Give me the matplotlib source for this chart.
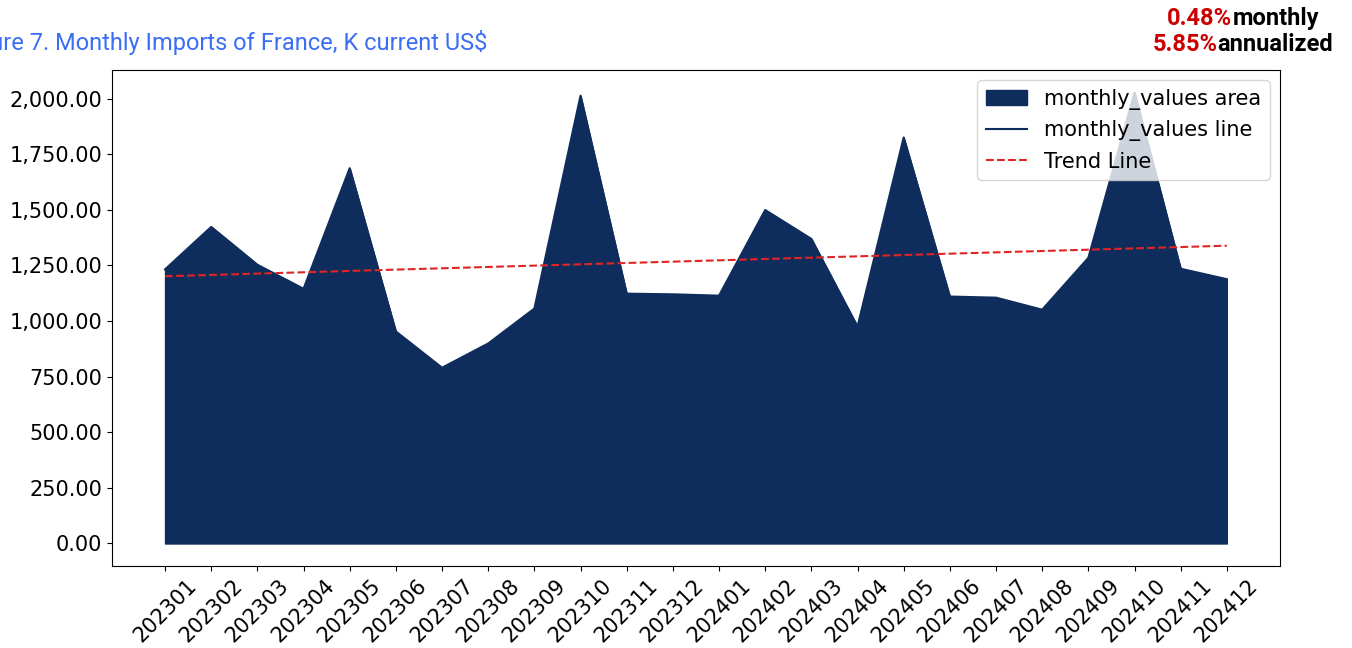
import numpy as np
import matplotlib.pyplot as plt
from matplotlib.ticker import FuncFormatter

# monthly imports
months = ['202301', '202302', '202303', '202304', '202305', '202306',
          '202307', '202308', '202309', '202310', '202311', '202312',
          '202401', '202402', '202403', '202404', '202405', '202406',
          '202407', '202408', '202409', '202410', '202411', '202412']
monthly_values = [1232, 1423, 1253, 1145, 1687, 953,
                  790, 899, 1056, 2013, 1123, 1120,
                  1114, 1499, 1369, 975, 1825, 1110,
                  1105, 1051, 1284, 2027, 1235, 1188]
monthly_rate = '0.48%'
annual_rate = '5.85%'

navy = '#0f2d5c'

fig = plt.figure(figsize=(13.52, 6.48), dpi=100)
ax = fig.add_axes([0.0828, 0.1265, 0.8639, 0.7655])

x = np.arange(len(months))
y = np.array(monthly_values, dtype=float)

ax.fill_between(x, y, color=navy, label='monthly_values area')
ax.plot(x, y, color=navy, linewidth=1.5, label='monthly_values line')

# linear trend
slope, intercept = np.polyfit(x, y, 1)
ax.plot(x, slope * x + intercept, color='#e02424', linestyle='--', linewidth=1.5, label='Trend Line')

ax.set_xticks(x)
ax.set_xticklabels(months, rotation=45, fontsize=15)
ax.yaxis.set_major_formatter(FuncFormatter(lambda v, p: '{:,.2f}'.format(v)))
ax.tick_params(axis='y', labelsize=15)
ax.legend(loc='upper right', fontsize=15)

# title (partly cut off at the left edge, as in the original)
fig.text(487 / 1352, 1 - 50 / 648, 'Figure 7. Monthly Imports of France, K current US$',
         ha='right', va='baseline', fontsize=17, color='#3b6ef5', family='Roboto')


# growth rates in the top right corner: red number + black word, centred on cx
def rate_line(cx, base, number, word):
    r = fig.canvas.get_renderer()
    t1 = fig.text(0, 1 - base / 648, number, va='baseline', fontsize=17,
                  color='#cc0000', fontweight='bold', family='Roboto')
    t2 = fig.text(0, 1 - base / 648, word, va='baseline', fontsize=17,
                  color='black', fontweight='bold', family='Roboto')
    w1 = t1.get_window_extent(r).width
    w2 = t2.get_window_extent(r).width
    left = cx - (w1 + w2) / 2
    t1.set_x(left / 1352)
    t2.set_x((left + w1) / 1352)


rate_line(1243, 25, monthly_rate, 'monthly')
rate_line(1243, 51, annual_rate, 'annualized')

fig.savefig('out.png', dpi=100)
